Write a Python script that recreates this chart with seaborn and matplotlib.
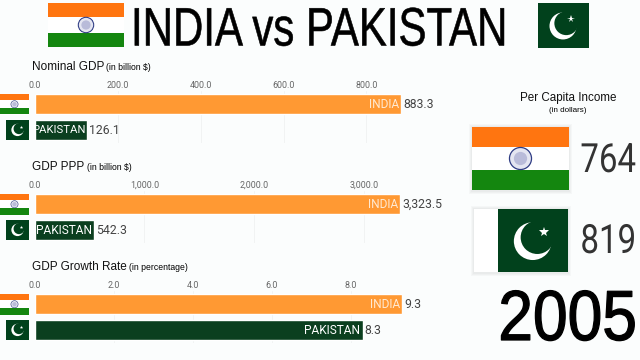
import numpy as np
import pandas as pd
import seaborn as sns
import matplotlib.pyplot as plt
import matplotlib.patheffects as pe
from matplotlib.patches import Rectangle, Circle
from matplotlib.transforms import Affine2D

countries = ['INDIA', 'PAKISTAN']
nominal_gdp = [883.3, 126.1]
gdp_ppp = [3323.5, 542.3]
gdp_growth = [9.3, 8.3]
per_capita = [764, 819]
year = '2005'

nominal_ticks = [0, 200, 400, 600, 800]
ppp_ticks = [0, 1000, 2000, 3000]
growth_ticks = [0, 2, 4, 6, 8]

BG = '#fbfdfd'
BAR_ORANGE = '#ff9933'
BAR_GREEN = '#0b3f1f'
FLAG_ORANGE = '#ff7510'
FLAG_GREEN = '#14860f'
PAK_GREEN = '#01411c'

sns.set_style('white')
plt.rcParams['font.family'] = ['Roboto', 'DejaVu Sans']

W, H = 640, 360
fig = plt.figure(figsize=(W / 100, H / 100), dpi=100, facecolor=BG)


# 横向压缩文字 (原图字体比较窄)
class Squeeze(pe.AbstractPathEffect):
    def __init__(self, sx, x0, lw=0):
        super().__init__()
        self.sx = sx
        self.x0 = x0
        self.lw = lw

    def draw_path(self, renderer, gc, tpath, affine, rgbFace=None):
        a = affine + Affine2D().translate(-self.x0, 0).scale(self.sx, 1).translate(self.x0, 0)
        gc0 = renderer.new_gc()
        gc0.copy_properties(gc)
        if self.lw:
            gc0.set_linewidth(self.lw)
            gc0.set_foreground(rgbFace)
        renderer.draw_path(gc0, tpath, a, rgbFace)
        gc0.restore()


def px_axes(x0, y0, x1, y1, **kw):
    return fig.add_axes([x0 / W, 1 - y1 / H, (x1 - x0) / W, (y1 - y0) / H], **kw)


def draw_panel(values, ticks, fmt, x0, x1, y0, y1, pak_size=8.6):
    ax = px_axes(x0, y0, x1, y1, facecolor='none')
    df = pd.DataFrame({'country': countries, 'value': values})
    ax.grid(False)
    ax.set_axisbelow(True)
    sns.barplot(data=df, x='value', y='country', hue='country', orient='h',
                palette=[BAR_ORANGE, BAR_GREEN], saturation=1, width=0.79,
                legend=False, ax=ax)
    ax.set_xlim(0, values[0])
    ax.set_ylim(1.5, -0.5)
    ax.set_xticks(ticks)
    ax.set_xticklabels([fmt.format(t) for t in ticks])
    ax.xaxis.tick_top()
    ax.tick_params(axis='x', length=0, pad=1, labelsize=6.4, labelcolor='#666666')
    ax.set_yticks([])
    ax.set_xlabel('')
    ax.set_ylabel('')
    for t in ticks[1:]:
        ax.axvline(t, color='#f1f3f3', lw=0.7, zorder=0)
    sns.despine(ax=ax, left=True, bottom=True, top=True, right=True)
    name_colors = ['#ffe9d2', '#ffffff']
    name_sizes = [8.6, pak_size]
    for i, v in enumerate(values):
        ax.annotate(countries[i], (v, i), xytext=(-1.5, 0), textcoords='offset points',
                    ha='right', va='center', fontsize=name_sizes[i], color=name_colors[i])
        ax.annotate(fmt.format(v), (v, i), xytext=(1.5, 0), textcoords='offset points',
                    ha='left', va='center', fontsize=8.8, color='#444444')
    return ax


draw_panel(nominal_gdp, nominal_ticks, '{:,.1f}', 35, 401, 91, 143, pak_size=8.1)
draw_panel(gdp_ppp, ppp_ticks, '{:,.1f}', 34.5, 400, 191, 243)
draw_panel(gdp_growth, growth_ticks, '{:,.1f}', 35, 402, 291, 343)

# 覆盖一层像素坐标的坐标轴, 放国旗和文字
ov = fig.add_axes([0, 0, 1, 1], facecolor='none')
ov.set_xlim(0, W)
ov.set_ylim(H, 0)
ov.axis('off')


def flag_shadow(x0, y0, w, h):
    for d in [3, 2, 1]:
        ov.add_patch(Rectangle((x0 - d, y0 - d), w + 2 * d, h + 2 * d + 1, fc='#888888', ec='none', alpha=0.05))


def india_flag(x0, y0, x1, y1, shadow=False):
    w, h = x1 - x0, y1 - y0
    if shadow:
        flag_shadow(x0, y0, w, h)
    ov.add_patch(Rectangle((x0, y0), w, h, fc='white', ec='none'))
    ov.add_patch(Rectangle((x0, y0), w, h * 0.31, fc=FLAG_ORANGE, ec='none'))
    ov.add_patch(Rectangle((x0, y0 + h * 0.69), w, h * 0.31, fc=FLAG_GREEN, ec='none'))
    r = h * 0.175
    cx = (x0 + x1) / 2
    cy = (y0 + y1) / 2
    ov.add_patch(Circle((cx, cy), r, fc='#e4e5f1', ec='#2f3c84', lw=min(0.9, max(0.4, r * 0.1))))
    ov.add_patch(Circle((cx, cy), r * 0.6, fc='#b9bbd9', ec='none'))


def pak_flag(x0, y0, x1, y1, white=0.0, shadow=False):
    w, h = x1 - x0, y1 - y0
    if shadow:
        flag_shadow(x0, y0, w, h)
    ov.add_patch(Rectangle((x0, y0), w, h, fc='white', ec='none'))
    gx = x0 + w * white
    gw = w * (1 - white)
    ov.add_patch(Rectangle((gx, y0), gw, h, fc=PAK_GREEN, ec='none'))
    cx = gx + gw * 0.5
    cy = y0 + h * 0.51
    r = h * 0.3
    ov.add_patch(Circle((cx, cy), r, fc='white', ec='none'))
    ov.add_patch(Circle((cx + r * 0.24, cy - r * 0.2), r * 0.88, fc=PAK_GREEN, ec='none'))
    ov.plot([cx + r * 0.6], [cy - r * 0.48], marker='*', color='white', ms=h * 0.125, mew=0)


# 顶部
india_flag(48, 3, 124, 47)
pak_flag(537.5, 3, 588.5, 48)
# 右侧
india_flag(472, 127, 569, 190, shadow=True)
pak_flag(474, 209, 568, 272, white=0.25, shadow=True)
# 左侧小国旗
for top in [94, 194, 294]:
    india_flag(0, top, 29, top + 20.5)
    pak_flag(6, top + 25.5, 29, top + 46)

SANS = ['Liberation Sans', 'DejaVu Sans']

ov.text(131, 45.5, 'INDIA vs PAKISTAN', family=SANS, fontsize=39, color='black', ha='left', va='baseline',
        path_effects=[Squeeze(0.775, 131, lw=0.4)])

titles = [('Nominal GDP', '(in billion $)', 32, 106, 70),
          ('GDP PPP', '(in billion $)', 32, 87, 170),
          ('GDP Growth Rate', '(in percentage)', 32, 129, 270)]
for main, sub, x, xs, y in titles:
    ov.text(x, y, main, family=SANS, fontsize=8.5, color='#111111', va='baseline')
    ov.text(xs, y, sub, family=SANS, fontsize=6.2, color='black', va='baseline')

ov.text(568, 101, 'Per Capita Income', family=SANS, fontsize=8.4, color='#111111', ha='center', va='baseline')
ov.text(568, 112, '(in dollars)', family=SANS, fontsize=5.8, color='black', ha='center', va='baseline')

ov.text(636, 172, str(per_capita[0]), fontsize=29, color='#333333', ha='right', va='baseline',
        path_effects=[Squeeze(0.82, 636)])
ov.text(636, 253, str(per_capita[1]), fontsize=29, color='#333333', ha='right', va='baseline',
        path_effects=[Squeeze(0.82, 636)])
ov.text(637, 340, year, family=SANS, fontsize=51, color='black', ha='right', va='baseline',
        path_effects=[Squeeze(0.88, 637, lw=0.9)])

fig.savefig('out.png', dpi=100, facecolor=BG)
